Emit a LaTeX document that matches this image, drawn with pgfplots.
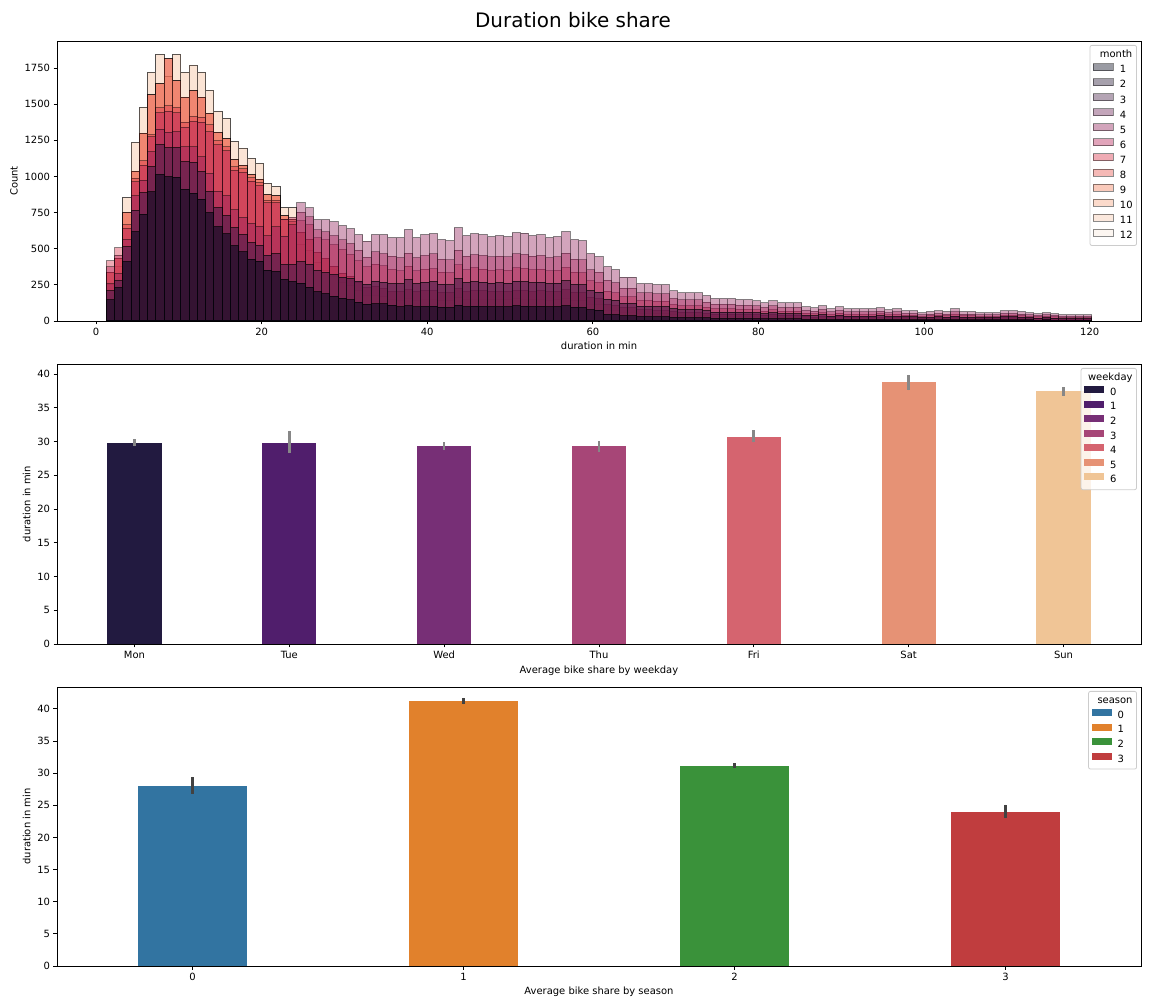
\documentclass[border=0pt]{standalone}
\usepackage{fontspec}
\setmainfont{DejaVu Sans}
\usepackage{pgfplots}
\usepackage{pgfplotstable}
\pgfplotsset{compat=1.18}

\definecolor{m1}{HTML}{03051A}
\definecolor{m2}{HTML}{231231}
\definecolor{m3}{HTML}{451B45}
\definecolor{m4}{HTML}{6B1E55}
\definecolor{m5}{HTML}{911B58}
\definecolor{m6}{HTML}{B61C55}
\definecolor{m7}{HTML}{D82E46}
\definecolor{m8}{HTML}{E95149}
\definecolor{m9}{HTML}{F37C57}
\definecolor{m10}{HTML}{F5A37E}
\definecolor{m11}{HTML}{F8C8AB}
\definecolor{m12}{HTML}{FAEBDD}
\definecolor{w0}{HTML}{221A40}
\definecolor{w1}{HTML}{501E6C}
\definecolor{w2}{HTML}{772F76}
\definecolor{w3}{HTML}{A74677}
\definecolor{w4}{HTML}{D5646F}
\definecolor{w5}{HTML}{E69275}
\definecolor{w6}{HTML}{F0C596}
\definecolor{s0}{HTML}{3274A1}
\definecolor{s1}{HTML}{E1812C}
\definecolor{s2}{HTML}{3A923A}
\definecolor{s3}{HTML}{C03D3E}

% bin centre x; columns: a = months 1,2; b = months 3,4; c = month 5; d = month 6;
% e = month 7; f = months 8,9,10; g = months 11,12
\pgfplotstableread{
x a b c d e f g
1.74 146 208 259 375 417 334 250
2.74 233 279 330 456 507 431 380
3.74 410 512 564 641 666 752 854
4.74 618 766 865 963 988 1037 1235
5.74 739 886 975 1078 1108 1300 1477
6.74 894 1066 1170 1273 1290 1565 1720
7.74 1015 1218 1328 1439 1476 1642 1845
8.74 998 1198 1307 1452 1488 1815 1688
9.74 996 1199 1310 1439 1476 1661 1845
10.74 912 1101 1204 1342 1376 1548 1720
11.74 885 1097 1204 1381 1416 1593 1770
12.74 843 1032 1135 1376 1410 1548 1720
13.74 750 893 1021 1308 1356 1436 1595
14.74 653 783 899 1218 1247 1305 1450
15.74 602 728 868 1176 1204 1260 1400
16.74 521 645 769 1042 1066 1116 1240
17.74 478 598 717 1028 1052 1076 1195
18.74 428 540 675 968 990 1013 1125
19.74 414 523 654 937 959 981 1090
20.74 352 456 589 817 836 874 950
21.74 344 465 651 818 837 865 930
22.74 289 391 587 704 704 727 782
23.74 274 391 665 719 688 704 782
24.74 262 409 818 753 695 614 532
25.74 235 392 784 721 666 564 486
26.74 203 351 701 631 575 477 407
27.74 189 336 701 617 561 435 351
28.74 172 323 687 591 529 378 309
29.74 158 304 660 561 495 330 264
30.74 147 294 639 537 460 307 243
31.74 131 275 597 490 418 269 209
32.74 116 254 553 442 376 232 177
33.74 119 275 597 478 394 239 179
34.74 119 269 597 466 382 227 167
35.74 109 259 576 449 357 207 150
36.74 98 259 576 438 346 202 144
37.74 107 284 632 470 379 221 158
38.74 98 259 576 438 346 202 144
39.74 101 269 597 454 358 209 149
40.74 103 272 604 465 362 211 151
41.74 96 253 563 428 338 197 141
42.74 95 250 556 423 334 195 139
43.74 110 291 646 491 388 226 162
44.74 100 266 590 448 354 207 148
45.74 103 272 604 459 370 211 151
46.74 101 269 597 454 358 209 149
47.74 99 262 583 443 350 204 146
48.74 100 266 590 448 354 207 148
49.74 99 262 583 443 350 204 146
50.74 104 275 611 464 367 214 153
51.74 103 273 607 461 364 212 152
52.74 100 266 590 448 354 207 148
53.74 101 269 597 454 358 209 149
54.74 98 259 576 438 346 202 144
55.74 99 262 583 443 350 204 146
56.74 105 278 618 470 371 216 155
57.74 96 253 563 428 338 197 141
58.74 95 250 556 423 334 195 139
59.74 79 210 466 354 280 163 117
60.74 76 200 445 338 267 156 111
61.74 45 150 376 282 207 113 75
62.74 43 142 355 266 195 107 71
63.74 36 122 304 228 167 91 61
64.74 36 122 304 228 167 91 61
65.74 31 103 258 194 142 77 52
66.74 31 103 258 194 142 77 52
67.74 30 100 251 188 138 75 50
68.74 30 100 251 188 138 75 50
69.74 25 84 209 157 115 63 42
70.74 23 78 195 146 107 59 39
71.74 23 78 195 146 107 59 39
72.74 23 78 195 146 107 59 39
73.74 21 70 175 131 96 53 35
74.74 18 62 154 116 85 46 31
75.74 18 62 154 116 85 46 31
76.74 18 62 154 116 85 46 31
77.74 18 59 147 110 81 44 29
78.74 18 59 147 110 81 44 29
79.74 17 56 140 105 77 42 28
80.74 15 50 126 95 69 38 25
81.74 17 56 140 105 77 42 28
82.74 15 50 126 95 69 38 25
83.74 15 50 126 95 69 38 25
84.74 15 50 126 95 69 38 25
85.74 12 39 98 74 54 29 20
86.74 11 36 91 68 50 27 18
87.74 13 42 105 79 58 32 21
88.74 10 34 84 63 46 25 17
89.74 12 39 98 74 54 29 20
90.74 10 34 84 63 46 25 17
91.74 10 34 84 63 46 25 17
92.74 10 34 84 63 46 25 17
93.74 10 34 84 63 46 25 17
94.74 11 36 91 68 50 27 18
95.74 9 31 77 58 42 23 15
96.74 10 34 84 63 46 25 17
97.74 8 28 70 53 39 21 14
98.74 8 28 70 53 39 21 14
99.74 7 23 57 43 31 17 11
100.74 8 26 64 48 35 19 13
101.74 8 28 70 53 39 21 14
102.74 8 26 64 48 35 19 13
103.74 10 34 84 63 46 25 17
104.74 8 26 64 48 35 19 13
105.74 8 26 64 48 35 19 13
106.74 7 23 57 43 31 17 11
107.74 7 23 57 43 31 17 11
108.74 7 23 57 43 31 17 11
109.74 8 28 70 53 39 21 14
110.74 8 28 70 53 39 21 14
111.74 8 26 64 48 35 19 13
112.74 7 23 57 43 31 17 11
113.74 6 20 50 38 28 15 10
114.74 7 23 57 43 31 17 11
115.74 6 20 50 38 28 15 10
116.74 5 17 43 32 24 13 9
117.74 5 17 43 32 24 13 9
118.74 5 17 43 32 24 13 9
119.74 5 17 43 32 24 13 9
}\histdata

\pgfplotsset{
  base/.style={
    scale only axis, width=1084bp,
    axis line style={line width=0.8bp, black},
    tick style={line width=0.8bp, black},
    tick align=outside, tick pos=left, major tick length=3.5bp,
    ticklabel style={font=\fontsize{10}{12}\selectfont},
    label style={font=\fontsize{10}{12}\selectfont},
    /pgf/number format/assume math mode=true,
    /pgf/number format/1000 sep={},
    scaled ticks=false,
    legend cell align=left,
    legend style={at={(1,1)}, anchor=north east, xshift=-4bp, yshift=-4bp,
      draw=black!20, line width=0.8bp, rounded corners=2bp,
      fill=white, fill opacity=0.8, draw opacity=1, text opacity=1,
      font=\fontsize{10}{12}\selectfont, inner xsep=3bp, inner ysep=5bp,
      row sep=3.3bp,
      nodes={inner ysep=0bp, inner xsep=1bp, text height=7.5bp, text depth=2bp},
      /tikz/every odd column/.append style={column sep=5bp}},
  },
  hb/.style={fill opacity=0.4, draw=black, draw opacity=0.45, line width=1bp, /pgf/bar shift=0pt},
}

\begin{document}
\begin{tikzpicture}
\path[use as bounding box] (0,0) rectangle (1152bp,1008bp);
\node[font=\fontsize{20}{24}\selectfont] at (573bp,988bp) {Duration bike share};

% ---------------- histogram ----------------
\begin{axis}[base, at={(57bp,687bp)}, anchor=south west, height=280bp,
  xmin=-4.71, xmax=126.19, ymin=0, ymax=1937,
  xtick={0,20,...,120}, ytick={0,250,...,1750},
  xlabel={duration in min}, ylabel={Count},
  ybar, bar width=1,
  every axis plot/.append style={/pgf/bar shift=0pt},
  reverse legend,
  legend image code/.code={\draw[#1, sharp corners] (0bp,-0.5bp) rectangle (20bp,6.5bp);},
]
\addplot[hb, fill=m12] table[x=x,y=g]{\histdata}; \addlegendentry{12}
\addplot[hb, fill=m11] table[x=x,y=g]{\histdata}; \addlegendentry{11}
\addplot[hb, fill=m10] table[x=x,y=f]{\histdata}; \addlegendentry{10}
\addplot[hb, fill=m9] table[x=x,y=f]{\histdata}; \addlegendentry{9}
\addplot[hb, fill=m8] table[x=x,y=f]{\histdata}; \addlegendentry{8}
\addplot[hb, fill=m7] table[x=x,y=e]{\histdata}; \addlegendentry{7}
\addplot[hb, fill=m6] table[x=x,y=d]{\histdata}; \addlegendentry{6}
\addplot[hb, fill=m5] table[x=x,y=c]{\histdata}; \addlegendentry{5}
\addplot[hb, fill=m4] table[x=x,y=b]{\histdata}; \addlegendentry{4}
\addplot[hb, fill=m3] table[x=x,y=b]{\histdata}; \addlegendentry{3}
\addplot[hb, fill=m2] table[x=x,y=a]{\histdata}; \addlegendentry{2}
\addplot[hb, fill=m1] table[x=x,y=a]{\histdata}; \addlegendentry{1}
\addlegendimage{empty legend}\addlegendentry{\hspace*{-20bp}month}
\end{axis}

% ---------------- weekday ----------------
\begin{axis}[base, at={(57bp,364bp)}, anchor=south west, height=280bp,
  xmin=-0.5, xmax=6.5, ymin=0, ymax=41.5,
  xtick={0,...,6}, xticklabels={Mon,Tue,Wed,Thu,Fri,Sat,Sun},
  ytick={0,5,...,40},
  xlabel={Average bike share by weekday}, ylabel={duration in min},
  ybar, bar width=0.35,
  every axis plot/.append style={/pgf/bar shift=0pt},
  error bars/y dir=both, error bars/y explicit, error bars/error mark=none,
  error bars/error bar style={line width=2.7bp, color=black!47},
  legend image code/.code={\fill[#1, fill opacity=1, sharp corners] (0bp,-0.5bp) rectangle (20bp,6.5bp);},
]
\addlegendimage{empty legend}\addlegendentry{\hspace*{-22bp}weekday}
\addplot[fill=w0, draw=none] coordinates {(0,29.78) += (0,0.62) -= (0,0.48)}; \addlegendentry{0}
\addplot[fill=w1, draw=none] coordinates {(1,29.78) += (0,1.8) -= (0,1.4)}; \addlegendentry{1}
\addplot[fill=w2, draw=none] coordinates {(2,29.33) += (0,0.55) -= (0,0.6)}; \addlegendentry{2}
\addplot[fill=w3, draw=none] coordinates {(3,29.33) += (0,0.75) -= (0,0.8)}; \addlegendentry{3}
\addplot[fill=w4, draw=none] coordinates {(4,30.67) += (0,1.0) -= (0,0.75)}; \addlegendentry{4}
\addplot[fill=w5, draw=none] coordinates {(5,38.8) += (0,1.1) -= (0,1.2)}; \addlegendentry{5}
\addplot[fill=w6, draw=none] coordinates {(6,37.5) += (0,0.6) -= (0,0.7)}; \addlegendentry{6}
\end{axis}

% ---------------- season ----------------
\begin{axis}[base, at={(57bp,42bp)}, anchor=south west, height=279bp,
  xmin=-0.5, xmax=3.5, ymin=0, ymax=43.4,
  xtick={0,1,2,3},
  ytick={0,5,...,40},
  xlabel={Average bike share by season}, ylabel={duration in min},
  ybar, bar width=0.4,
  every axis plot/.append style={/pgf/bar shift=0pt},
  error bars/y dir=both, error bars/y explicit, error bars/error mark=none,
  error bars/error bar style={line width=2.7bp, color=black!74},
  legend image code/.code={\fill[#1, fill opacity=1, sharp corners] (0bp,-0.5bp) rectangle (20bp,6.5bp);},
]
\addlegendimage{empty legend}\addlegendentry{\hspace*{-20bp}season}
\addplot[fill=s0, draw=none] coordinates {(0,28.0) += (0,1.4) -= (0,1.2)}; \addlegendentry{0}
\addplot[fill=s1, draw=none] coordinates {(1,41.25) += (0,0.45) -= (0,0.55)}; \addlegendentry{1}
\addplot[fill=s2, draw=none] coordinates {(2,31.1) += (0,0.4) -= (0,0.3)}; \addlegendentry{2}
\addplot[fill=s3, draw=none] coordinates {(3,24.0) += (0,1.1) -= (0,1.0)}; \addlegendentry{3}
\end{axis}
\end{tikzpicture}
\end{document}
